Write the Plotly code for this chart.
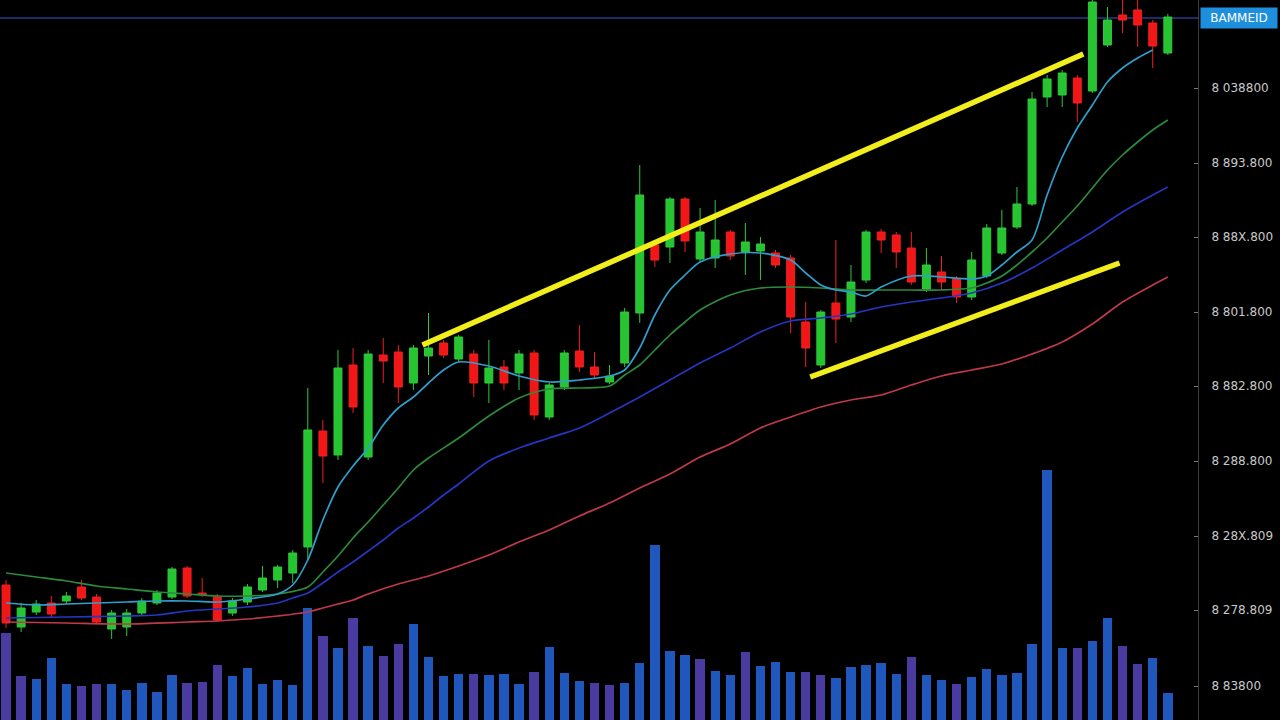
import plotly.graph_objects as go

# ---- candle data (index = session number) ----
opens  = [13.5, 9.3, 10.8, 11.7, 11.9, 13.3, 12.3, 9.1, 9.3, 10.7, 11.7, 12.3, 15.2, 12.7, 12.3, 10.7, 11.8, 13.0, 14.0, 14.7,
          17.3, 28.9, 26.5, 35.5, 26.3, 36.5, 36.8, 33.7, 36.4, 37.7, 36.1, 36.6, 33.7, 35.3, 34.7, 36.7, 30.3, 33.3, 36.9, 35.3,
          33.8, 35.7, 40.7, 47.5, 47.3, 52.1, 46.1, 46.2, 48.8, 46.8, 46.9, 46.7, 46.2, 39.8, 35.5, 41.7, 40.3, 44.0, 48.8, 48.5,
          47.2, 43.1, 44.8, 44.1, 42.3, 44.4, 46.7, 49.3, 51.6, 62.3, 62.5, 64.2, 62.9, 67.5, 70.5, 71.0, 69.7, 66.7]
highs  = [14.0, 11.7, 12.0, 12.4, 12.8, 14.0, 12.6, 11.0, 11.1, 12.2, 13.0, 15.3, 15.4, 14.2, 12.6, 12.2, 13.6, 15.4, 15.5, 17.0,
          33.2, 30.0, 37.0, 37.2, 37.0, 38.2, 37.5, 37.5, 40.7, 38.0, 38.5, 37.0, 38.0, 36.0, 37.0, 37.0, 33.7, 37.0, 39.5, 36.8,
          35.5, 41.2, 55.5, 48.0, 52.3, 52.3, 51.2, 52.0, 49.0, 49.7, 48.3, 47.0, 46.5, 41.8, 41.0, 48.0, 45.5, 49.0, 49.1, 48.8,
          48.8, 47.2, 46.4, 44.4, 46.8, 49.6, 51.0, 53.3, 62.8, 64.5, 65.0, 64.5, 72.5, 71.3, 72.0, 72.0, 70.0, 70.6]
lows   = [9.2, 8.8, 10.5, 10.2, 11.6, 12.0, 9.6, 8.1, 8.4, 10.5, 11.5, 12.1, 12.2, 12.3, 9.8, 10.4, 11.5, 12.8, 13.2, 13.7,
          16.0, 23.7, 26.0, 30.7, 26.0, 33.7, 31.7, 33.0, 34.5, 36.2, 35.8, 32.3, 31.7, 33.0, 33.0, 30.0, 30.0, 33.0, 34.8, 34.2,
          33.6, 35.3, 39.7, 45.3, 45.7, 46.8, 45.8, 45.2, 46.0, 44.5, 44.0, 45.2, 38.7, 35.3, 35.2, 37.7, 39.8, 43.7, 46.7, 45.2,
          43.5, 42.8, 43.0, 41.7, 42.0, 44.2, 46.5, 49.1, 51.4, 61.3, 61.3, 59.8, 62.7, 67.3, 68.7, 67.3, 65.2, 66.5]
closes = [9.7, 11.2, 11.6, 10.6, 12.4, 12.2, 9.8, 10.7, 10.7, 11.9, 12.7, 15.1, 12.4, 12.5, 10.0, 11.9, 13.3, 14.2, 15.3, 16.7,
          29.0, 26.4, 35.2, 31.3, 36.6, 35.9, 33.3, 37.2, 37.2, 36.5, 38.3, 33.7, 35.2, 33.7, 36.6, 30.5, 33.5, 36.7, 35.3, 34.5,
          34.4, 40.8, 52.5, 46.0, 52.1, 47.9, 48.8, 48.0, 46.4, 47.8, 47.6, 45.5, 40.3, 37.2, 40.8, 40.1, 43.8, 48.8, 48.0, 46.8,
          43.8, 45.5, 43.8, 42.3, 46.0, 49.2, 49.2, 51.6, 62.1, 64.1, 64.7, 61.7, 71.8, 70.0, 70.0, 69.5, 67.4, 70.3]
sessions = list(range(len(opens)))

# ---- volume ----
volume = [34.8, 17.6, 16.4, 24.8, 14.4, 13.6, 14.4, 14.4, 12.0, 14.8, 11.2, 18.0, 14.8, 15.2, 22.0, 17.6, 20.8, 14.4, 16.0, 14.0,
          44.8, 33.6, 28.8, 40.8, 29.6, 25.6, 30.4, 38.4, 25.2, 17.6, 18.4, 18.4, 18.0, 18.4, 14.4, 19.2, 29.2, 18.8, 15.6, 14.8,
          14.0, 14.8, 22.8, 70.0, 27.6, 26.0, 24.4, 19.6, 18.0, 27.2, 21.6, 23.2, 19.2, 19.2, 18.0, 16.8, 21.2, 22.0, 22.8, 18.4,
          25.2, 18.0, 16.0, 14.4, 17.2, 20.4, 18.0, 18.8, 30.4, 100.0, 28.8, 28.8, 31.6, 40.8, 29.6, 22.4, 24.8, 10.8]
volume_tone = list("PPBBBPPBBBBBPPPBBBBB" "BPBPBPPBBBBPBBBPBBBP" "PBBBBBPBBPBBBPPBBBBB" "PBBPBBBBBBBPBBPPBB")

# ---- moving averages ----
ma_fast_x = [0, 2, 4, 6, 8, 10, 12, 14, 16, 18, 19, 20, 21, 22, 23, 24, 25, 26, 27, 28, 29, 30, 32, 34, 36, 38, 40, 41, 42, 43,
             44, 45, 46, 48, 50, 52, 53, 54, 55, 56, 57, 58, 60, 62, 64, 65, 66, 67, 68, 69, 70, 71, 72, 73, 74, 75, 76]
ma_fast_y = [11.7, 11.5, 11.6, 11.7, 11.8, 11.9, 11.9, 11.8, 12.1, 12.6, 13.5, 16.0, 20.0, 23.3, 25.4, 27.2, 29.5, 31.2, 32.3, 33.7,
             35.0, 35.8, 35.4, 34.4, 33.8, 34.0, 34.4, 35.0, 37.2, 40.5, 43.0, 44.5, 45.8, 46.6, 46.7, 46.0, 44.7, 43.5, 43.0, 42.8,
             42.4, 43.3, 44.4, 44.3, 44.1, 44.4, 45.5, 46.8, 48.0, 52.5, 56.3, 59.2, 61.5, 63.8, 65.2, 66.2, 67.0]
ma_mid_x = [0, 2, 4, 6, 8, 10, 12, 14, 16, 18, 20, 21, 22, 23, 24, 25, 26, 27, 28, 30, 32, 34, 36, 38, 40, 41, 42, 43, 44, 45,
            46, 48, 50, 52, 54, 56, 58, 60, 62, 64, 65, 66, 67, 68, 69, 70, 71, 72, 73, 74, 75, 76, 77]
ma_mid_y = [14.7, 14.3, 13.9, 13.4, 13.1, 12.8, 12.6, 12.4, 12.4, 12.6, 13.3, 14.8, 16.4, 18.2, 19.8, 21.5, 23.2, 25.0, 26.2, 28.2,
            30.4, 32.2, 33.1, 33.2, 33.4, 34.5, 35.5, 37.0, 38.5, 39.8, 41.0, 42.5, 43.2, 43.3, 43.2, 43.0, 43.0, 43.0, 43.0, 43.2,
            43.7, 44.4, 45.5, 46.8, 48.2, 49.8, 51.4, 53.2, 55.0, 56.5, 57.8, 59.0, 60.0]
ma_slow_x = [0, 4, 8, 10, 12, 14, 16, 18, 19, 20, 21, 22, 23, 24, 25, 26, 27, 28, 29, 30, 32, 34, 36, 38, 40, 42, 44, 46, 48, 50,
             52, 54, 56, 58, 60, 62, 64, 66, 68, 70, 72, 74, 76, 77]
ma_slow_y = [10.2, 10.3, 10.4, 10.5, 10.9, 11.1, 11.3, 11.7, 12.2, 12.7, 13.7, 14.8, 15.8, 16.9, 18.0, 19.2, 20.2, 21.3, 22.5, 23.6,
             25.9, 27.2, 28.2, 29.2, 30.7, 32.3, 34.0, 35.7, 37.2, 38.8, 39.9, 40.2, 40.6, 41.3, 41.8, 42.2, 42.7, 43.7, 45.2, 47.0,
             48.8, 50.8, 52.5, 53.3]
ma_long_x = [0, 4, 8, 12, 14, 16, 18, 20, 21, 22, 23, 24, 26, 28, 30, 32, 34, 36, 38, 40, 42, 44, 46, 48, 50, 52, 54, 56, 58, 60,
             62, 64, 66, 68, 70, 72, 74, 76, 77]
ma_long_y = [9.8, 9.7, 9.6, 9.8, 9.9, 10.1, 10.4, 10.8, 11.2, 11.6, 12.0, 12.6, 13.6, 14.4, 15.4, 16.5, 17.8, 19.0, 20.4, 21.7,
             23.2, 24.6, 26.3, 27.6, 29.2, 30.3, 31.3, 32.0, 32.5, 33.5, 34.4, 35.0, 35.6, 36.6, 37.8, 39.6, 41.8, 43.5, 44.3]

# ---- drawn trendlines ----
trend_upper_x = [27.6, 71.4]
trend_upper_y = [37.5, 66.6]
trend_lower_x = [53.3, 73.8]
trend_lower_y = [34.3, 45.7]

last_price = 70.2
price_tag = "BAMMEID"

tick_vals = [63.2, 55.7, 48.3, 40.8, 33.4, 25.9, 18.4, 11.0, 3.4]
tick_text = ["8 038800", "8 893.800", "8 88X.800", "8 801.800", "8 882.800",
             "8 288.800", "8 28X.809", "8 278.809", "8 83800"]

tone_colors = {"B": "#1f57bd", "P": "#4a3ba0"}

fig = go.Figure()

fig.add_trace(go.Bar(
    x=sessions, y=volume, yaxis="y",
    marker=dict(color=[tone_colors[t] for t in volume_tone], line=dict(width=0)),
    width=0.62, hoverinfo="skip"))

for xs, ys, col in [(ma_long_x, ma_long_y, "#c0394a"),
                    (ma_slow_x, ma_slow_y, "#2536c0"),
                    (ma_mid_x, ma_mid_y, "#2d8a3c"),
                    (ma_fast_x, ma_fast_y, "#2f9fce")]:
    fig.add_trace(go.Scatter(x=xs, y=ys, yaxis="y2", mode="lines",
                             line=dict(color=col, width=1.7, shape="spline", smoothing=0.8),
                             hoverinfo="skip"))

fig.add_trace(go.Candlestick(
    x=sessions, open=opens, high=highs, low=lows, close=closes, yaxis="y2",
    increasing=dict(line=dict(color="#2fc83a", width=1), fillcolor="#27c431"),
    decreasing=dict(line=dict(color="#f02020", width=1), fillcolor="#f21616"),
    whiskerwidth=0))

for xs, ys in [(trend_upper_x, trend_upper_y), (trend_lower_x, trend_lower_y)]:
    fig.add_trace(go.Scatter(x=xs, y=ys, yaxis="y2", mode="lines",
                             line=dict(color="#f2ee1c", width=5.5), hoverinfo="skip"))

fig.add_shape(type="line", xref="paper", x0=0, x1=1, yref="y2", y0=last_price, y1=last_price,
              line=dict(color="#1c2c66", width=2), layer="below")

fig.add_annotation(xref="paper", x=1, xanchor="left", xshift=2, yref="y2", y=last_price,
                   text=price_tag, showarrow=False, bgcolor="#1d8fdc", borderpad=2,
                   width=72, height=16,
                   font=dict(family="DejaVu Sans", size=12, color="#ffffff"))

fig.update_layout(
    width=1280, height=720,
    margin=dict(l=0, r=82, t=0, b=0, autoexpand=False),
    paper_bgcolor="#000000", plot_bgcolor="#000000",
    showlegend=False, bargap=0, boxgap=0.25,
    xaxis=dict(range=[-0.4, 79.0], visible=False, rangeslider=dict(visible=False), fixedrange=True),
    yaxis=dict(range=[0, 288], visible=False, showgrid=False),
    yaxis2=dict(range=[0, 72], overlaying="y", side="right", showgrid=False, zeroline=False,
                showline=True, linecolor="#3c3c3c", linewidth=1,
                ticks="inside", ticklen=4, tickcolor="#777777",
                tickvals=tick_vals, ticktext=tick_text, ticklabelstandoff=10,
                tickfont=dict(family="DejaVu Sans", size=12, color="#c8c8c8")),
)

fig.write_html("out.html", config={"displayModeBar": False},
               post_script="document.body.style.margin='0';document.body.style.background='#000';")
